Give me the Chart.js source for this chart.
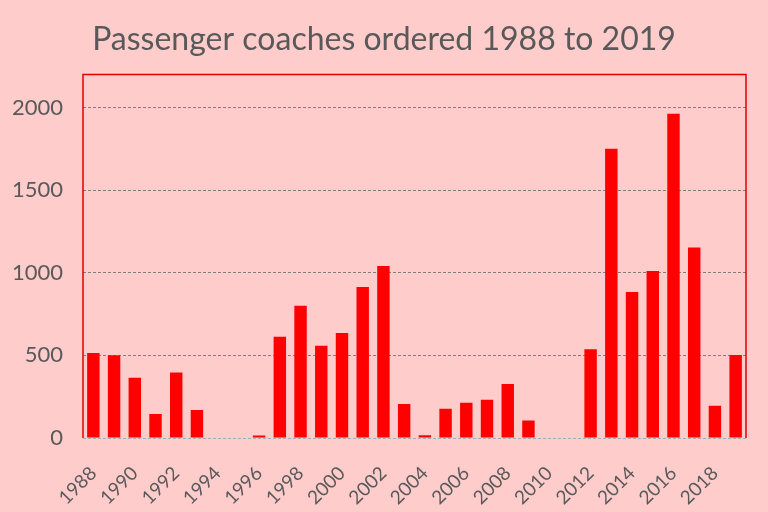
<!DOCTYPE html>
<html>
<head>
<meta charset="utf-8">
<script src="https://cdn.jsdelivr.net/npm/chart.js@4"></script>
<style>
html,body{margin:0;padding:0;background:#FFCCCC;}
#wrap{width:768px;height:512px;}
</style>
</head>
<body>
<div id="wrap"><canvas id="c" width="768" height="512"></canvas></div>
<script>
const years = ['1988','1989','1990','1991','1992','1993','1994','1995','1996','1997','1998','1999','2000','2001','2002','2003','2004','2005','2006','2007','2008','2009','2010','2011','2012','2013','2014','2015','2016','2017','2018','2019'];
const coachesOrdered = [515,500,365,145,397,170,0,0,15,612,800,558,636,913,1040,205,17,177,214,232,326,106,0,0,537,1750,883,1010,1962,1152,195,502];
const yTickValues = [0,500,1000,1500,2000];
const titleText = 'Passenger coaches ordered 1988 to 2019';

const frame = {
  id: 'frame',
  afterDraw(chart) {
    const a = chart.chartArea, ctx = chart.ctx;
    ctx.save();
    ctx.strokeStyle = '#E00000';
    ctx.lineWidth = 1.5;
    ctx.beginPath();
    ctx.moveTo(a.left, a.bottom);
    ctx.lineTo(a.left, a.top);
    ctx.lineTo(a.right, a.top);
    ctx.lineTo(a.right, a.bottom);
    ctx.stroke();
    ctx.restore();
  }
};

new Chart(document.getElementById('c'), {
  type: 'bar',
  data: {
    labels: years,
    datasets: [{
      data: coachesOrdered,
      backgroundColor: '#FF0000',
      borderWidth: 0,
      categoryPercentage: 1,
      barPercentage: 0.6
    }]
  },
  options: {
    responsive: false,
    animation: false,
    layout: { padding: 0 },
    plugins: {
      legend: { display: false },
      tooltip: { enabled: false },
      title: {
        display: true,
        text: titleText,
        color: '#595959',
        font: { family: 'Lato', size: 32, weight: 'normal' },
        padding: { top: 20, bottom: 16 }
      }
    },
    scales: {
      x: {
        grid: { display: false, drawTicks: false },
        border: { display: true, color: '#D9D9D9', width: 1.5 },
        ticks: {
          color: '#595959',
          font: { family: 'Lato', size: 19 },
          maxRotation: 45, minRotation: 45,
          autoSkip: false,
          padding: 24,
          callback: function(v, i) { return i % 2 === 0 ? this.getLabelForValue(v) : ''; }
        },
        afterFit(s) { s.height = 74; s.paddingLeft = 0; s.paddingRight = 0; }
      },
      y: {
        min: 0, max: 2200,
        grid: { color: '#7F7F7F', lineWidth: 1, drawTicks: false },
        border: { display: false, dash: [3, 2] },
        afterBuildTicks(s) { s.ticks = yTickValues.map(v => ({ value: v })); },
        ticks: {
          color: '#595959',
          font: { family: 'Lato', size: 22 },
          padding: 20,
          callback: v => String(v)
        },
        afterFit(s) { s.width = 83; s.paddingTop = 0; s.paddingBottom = 0; }
      },
      yRight: {
        position: 'right',
        display: true,
        grid: { display: false, drawTicks: false },
        border: { display: false },
        ticks: { display: false },
        afterFit(s) { s.width = 22; s.paddingTop = 0; s.paddingBottom = 0; }
      }
    }
  },
  plugins: [frame]
});
</script>
</body>
</html>
